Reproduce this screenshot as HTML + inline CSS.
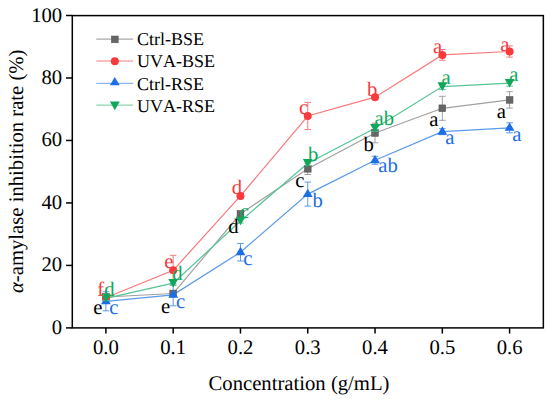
<!DOCTYPE html><html><head><meta charset="utf-8"><style>html,body{margin:0;padding:0;background:#fff;width:550px;height:401px;overflow:hidden}svg{display:block;text-rendering:geometricPrecision}</style></head><body>
<svg width="550" height="401" viewBox="0 0 550 401" style="font-family:&quot;Liberation Serif&quot;, serif">
<rect width="550" height="401" fill="#fff"/>
<polyline points="105.90,297.00 173.18,293.50 240.47,213.80 307.75,168.80 375.03,133.00 442.32,108.30 509.60,99.90" fill="none" stroke="#a0a0a0" stroke-width="1.2"/>
<polyline points="105.90,297.80 173.18,270.30 240.47,195.90 307.75,116.00 375.03,97.20 442.32,54.90 509.60,51.50" fill="none" stroke="#f77a7a" stroke-width="1.2"/>
<polyline points="105.90,301.30 173.18,294.80 240.47,252.20 307.75,194.10 375.03,160.30 442.32,131.70 509.60,127.80" fill="none" stroke="#5a9ae8" stroke-width="1.2"/>
<polyline points="105.90,298.30 173.18,283.20 240.47,221.00 307.75,163.30 375.03,128.30 442.32,86.60 509.60,83.20" fill="none" stroke="#55c594" stroke-width="1.2"/>
<path d="M105.90 295.00V299.00M102.60 295.00H109.20M102.60 299.00H109.20" stroke="#a0a0a0" stroke-width="1" fill="none"/>
<path d="M173.18 291.50V295.50M169.88 291.50H176.48M169.88 295.50H176.48" stroke="#a0a0a0" stroke-width="1" fill="none"/>
<path d="M240.47 211.80V215.80M237.17 211.80H243.77M237.17 215.80H243.77" stroke="#a0a0a0" stroke-width="1" fill="none"/>
<path d="M307.75 163.10V174.50M304.45 163.10H311.05M304.45 174.50H311.05" stroke="#a0a0a0" stroke-width="1" fill="none"/>
<path d="M375.03 123.20V142.80M371.73 123.20H378.33M371.73 142.80H378.33" stroke="#a0a0a0" stroke-width="1" fill="none"/>
<path d="M442.32 96.30V120.30M439.02 96.30H445.62M439.02 120.30H445.62" stroke="#a0a0a0" stroke-width="1" fill="none"/>
<path d="M509.60 91.70V108.10M506.30 91.70H512.90M506.30 108.10H512.90" stroke="#a0a0a0" stroke-width="1" fill="none"/>
<rect x="102.50" y="293.60" width="6.8" height="6.8" fill="#666666" stroke="#555" stroke-width="0.5"/>
<rect x="169.78" y="290.10" width="6.8" height="6.8" fill="#666666" stroke="#555" stroke-width="0.5"/>
<rect x="237.07" y="210.40" width="6.8" height="6.8" fill="#666666" stroke="#555" stroke-width="0.5"/>
<rect x="304.35" y="165.40" width="6.8" height="6.8" fill="#666666" stroke="#555" stroke-width="0.5"/>
<rect x="371.63" y="129.60" width="6.8" height="6.8" fill="#666666" stroke="#555" stroke-width="0.5"/>
<rect x="438.92" y="104.90" width="6.8" height="6.8" fill="#666666" stroke="#555" stroke-width="0.5"/>
<rect x="506.20" y="96.50" width="6.8" height="6.8" fill="#666666" stroke="#555" stroke-width="0.5"/>
<path d="M105.90 295.80V299.80M102.60 295.80H109.20M102.60 299.80H109.20" stroke="#f77a7a" stroke-width="1" fill="none"/>
<path d="M173.18 255.30V285.30M169.88 255.30H176.48M169.88 285.30H176.48" stroke="#f77a7a" stroke-width="1" fill="none"/>
<path d="M240.47 193.90V197.90M237.17 193.90H243.77M237.17 197.90H243.77" stroke="#f77a7a" stroke-width="1" fill="none"/>
<path d="M307.75 102.40V129.60M304.45 102.40H311.05M304.45 129.60H311.05" stroke="#f77a7a" stroke-width="1" fill="none"/>
<path d="M375.03 95.20V99.20M371.73 95.20H378.33M371.73 99.20H378.33" stroke="#f77a7a" stroke-width="1" fill="none"/>
<path d="M442.32 49.50V60.30M439.02 49.50H445.62M439.02 60.30H445.62" stroke="#f77a7a" stroke-width="1" fill="none"/>
<path d="M509.60 45.90V57.10M506.30 45.90H512.90M506.30 57.10H512.90" stroke="#f77a7a" stroke-width="1" fill="none"/>
<circle cx="105.90" cy="297.80" r="4.0" fill="#f83a3c"/>
<circle cx="173.18" cy="270.30" r="4.0" fill="#f83a3c"/>
<circle cx="240.47" cy="195.90" r="4.0" fill="#f83a3c"/>
<circle cx="307.75" cy="116.00" r="4.0" fill="#f83a3c"/>
<circle cx="375.03" cy="97.20" r="4.0" fill="#f83a3c"/>
<circle cx="442.32" cy="54.90" r="4.0" fill="#f83a3c"/>
<circle cx="509.60" cy="51.50" r="4.0" fill="#f83a3c"/>
<path d="M105.90 291.80V310.80M102.60 291.80H109.20M102.60 310.80H109.20" stroke="#5a9ae8" stroke-width="1" fill="none"/>
<path d="M173.18 283.80V305.80M169.88 283.80H176.48M169.88 305.80H176.48" stroke="#5a9ae8" stroke-width="1" fill="none"/>
<path d="M240.47 243.40V261.00M237.17 243.40H243.77M237.17 261.00H243.77" stroke="#5a9ae8" stroke-width="1" fill="none"/>
<path d="M307.75 182.10V206.10M304.45 182.10H311.05M304.45 206.10H311.05" stroke="#5a9ae8" stroke-width="1" fill="none"/>
<path d="M375.03 156.30V164.30M371.73 156.30H378.33M371.73 164.30H378.33" stroke="#5a9ae8" stroke-width="1" fill="none"/>
<path d="M442.32 128.70V134.70M439.02 128.70H445.62M439.02 134.70H445.62" stroke="#5a9ae8" stroke-width="1" fill="none"/>
<path d="M509.60 122.80V132.80M506.30 122.80H512.90M506.30 132.80H512.90" stroke="#5a9ae8" stroke-width="1" fill="none"/>
<path d="M105.90 295.90 L110.80 304.30 L101.00 304.30Z" fill="#1a6ee6"/>
<path d="M173.18 289.40 L178.08 297.80 L168.28 297.80Z" fill="#1a6ee6"/>
<path d="M240.47 246.80 L245.37 255.20 L235.57 255.20Z" fill="#1a6ee6"/>
<path d="M307.75 188.70 L312.65 197.10 L302.85 197.10Z" fill="#1a6ee6"/>
<path d="M375.03 154.90 L379.93 163.30 L370.13 163.30Z" fill="#1a6ee6"/>
<path d="M442.32 126.30 L447.22 134.70 L437.42 134.70Z" fill="#1a6ee6"/>
<path d="M509.60 122.40 L514.50 130.80 L504.70 130.80Z" fill="#1a6ee6"/>
<path d="M105.90 296.30V300.30M102.60 296.30H109.20M102.60 300.30H109.20" stroke="#55c594" stroke-width="1" fill="none"/>
<path d="M173.18 281.20V285.20M169.88 281.20H176.48M169.88 285.20H176.48" stroke="#55c594" stroke-width="1" fill="none"/>
<path d="M240.47 219.00V223.00M237.17 219.00H243.77M237.17 223.00H243.77" stroke="#55c594" stroke-width="1" fill="none"/>
<path d="M307.75 161.30V165.30M304.45 161.30H311.05M304.45 165.30H311.05" stroke="#55c594" stroke-width="1" fill="none"/>
<path d="M375.03 125.30V131.30M371.73 125.30H378.33M371.73 131.30H378.33" stroke="#55c594" stroke-width="1" fill="none"/>
<path d="M442.32 83.60V89.60M439.02 83.60H445.62M439.02 89.60H445.62" stroke="#55c594" stroke-width="1" fill="none"/>
<path d="M509.60 80.20V86.20M506.30 80.20H512.90M506.30 86.20H512.90" stroke="#55c594" stroke-width="1" fill="none"/>
<path d="M101.00 294.00 L110.80 294.00 L105.90 302.60Z" fill="#0fa85a"/>
<path d="M168.28 278.90 L178.08 278.90 L173.18 287.50Z" fill="#0fa85a"/>
<path d="M235.57 216.70 L245.37 216.70 L240.47 225.30Z" fill="#0fa85a"/>
<path d="M302.85 159.00 L312.65 159.00 L307.75 167.60Z" fill="#0fa85a"/>
<path d="M370.13 124.00 L379.93 124.00 L375.03 132.60Z" fill="#0fa85a"/>
<path d="M437.42 82.30 L447.22 82.30 L442.32 90.90Z" fill="#0fa85a"/>
<path d="M504.70 78.90 L514.50 78.90 L509.60 87.50Z" fill="#0fa85a"/>
<g font-size="20.7">
<text x="93.19" y="314.30" fill="#000000">e</text>
<text x="160.89" y="312.60" fill="#000000">e</text>
<text x="228.25" y="233.10" fill="#000000">d</text>
<text x="295.21" y="187.10" fill="#000000">c</text>
<text x="363.40" y="151.40" fill="#000000">b</text>
<text x="429.27" y="126.40" fill="#000000">a</text>
<text x="496.67" y="118.40" fill="#000000">a</text>
<text x="97.36" y="295.80" fill="#f83a3c">f</text>
<text x="164.19" y="268.10" fill="#f83a3c">e</text>
<text x="231.75" y="194.10" fill="#f83a3c">d</text>
<text x="298.91" y="113.70" fill="#f83a3c">c</text>
<text x="367.00" y="95.60" fill="#f83a3c">b</text>
<text x="432.97" y="53.00" fill="#f83a3c">a</text>
<text x="500.27" y="50.60" fill="#f83a3c">a</text>
<text x="109.21" y="313.90" fill="#1a6ee6">c</text>
<text x="176.11" y="307.60" fill="#1a6ee6">c</text>
<text x="243.31" y="264.80" fill="#1a6ee6">c</text>
<text x="312.50" y="206.60" fill="#1a6ee6">b</text>
<text x="378.37" y="172.10" fill="#1a6ee6">ab</text>
<text x="445.17" y="144.30" fill="#1a6ee6">a</text>
<text x="512.17" y="141.30" fill="#1a6ee6">a</text>
<text x="104.25" y="295.60" fill="#0fa85a">d</text>
<text x="172.25" y="279.90" fill="#0fa85a">d</text>
<text x="239.71" y="217.90" fill="#0fa85a">c</text>
<text x="308.00" y="161.10" fill="#0fa85a">b</text>
<text x="374.47" y="125.20" fill="#0fa85a">ab</text>
<text x="441.57" y="84.10" fill="#0fa85a">a</text>
<text x="509.27" y="80.60" fill="#0fa85a">a</text>
</g>
<g stroke="#000" stroke-width="1.5" fill="none">
<rect x="72.3" y="15.6" width="471.05" height="312.3"/>
<path d="M66 327.90H72.3"/>
<path d="M66 265.42H72.3"/>
<path d="M66 202.94H72.3"/>
<path d="M66 140.46H72.3"/>
<path d="M66 77.98H72.3"/>
<path d="M66 15.50H72.3"/>
<path d="M105.90 327.9V333.6"/>
<path d="M173.18 327.9V333.6"/>
<path d="M240.47 327.9V333.6"/>
<path d="M307.75 327.9V333.6"/>
<path d="M375.03 327.9V333.6"/>
<path d="M442.32 327.9V333.6"/>
<path d="M509.60 327.9V333.6"/>
</g>
<g font-size="20.7" fill="#000">
<text x="62.2" y="333.90" text-anchor="end">0</text>
<text x="62.2" y="271.42" text-anchor="end">20</text>
<text x="62.2" y="208.94" text-anchor="end">40</text>
<text x="62.2" y="146.46" text-anchor="end">60</text>
<text x="62.2" y="83.98" text-anchor="end">80</text>
<text x="62.2" y="21.50" text-anchor="end">100</text>
<text x="105.90" y="354.0" text-anchor="middle">0.0</text>
<text x="173.18" y="354.0" text-anchor="middle">0.1</text>
<text x="240.47" y="354.0" text-anchor="middle">0.2</text>
<text x="307.75" y="354.0" text-anchor="middle">0.3</text>
<text x="375.03" y="354.0" text-anchor="middle">0.4</text>
<text x="442.32" y="354.0" text-anchor="middle">0.5</text>
<text x="509.60" y="354.0" text-anchor="middle">0.6</text>
</g>
<text x="299" y="390.2" font-size="20.7" text-anchor="middle">Concentration (g/mL)</text>
<text transform="translate(22.6 171.3) rotate(-90)" font-size="20.7" text-anchor="middle"><tspan font-style="italic">α</tspan>-amylase inhibition rate (%)</text>
<path d="M96.3 39.10H133.1" stroke="#a8a8a8" stroke-width="1.3"/>
<rect x="111.40" y="36.00" width="6.8" height="6.8" fill="#666666" stroke="#555" stroke-width="0.5"/>
<text x="137" y="45.30" font-size="18" fill="#000" style="font-kerning:none">Ctrl-BSE</text>
<path d="M96.3 61.00H133.1" stroke="#f9aaaa" stroke-width="1.3"/>
<circle cx="114.80" cy="61.30" r="4.0" fill="#f83a3c"/>
<text x="137" y="67.20" font-size="18" fill="#000" style="font-kerning:none">UVA-BSE</text>
<path d="M96.3 83.30H133.1" stroke="#8cb8f0" stroke-width="1.3"/>
<path d="M114.80 76.90 L119.70 85.30 L109.90 85.30Z" fill="#1a6ee6"/>
<text x="137" y="89.80" font-size="18" fill="#000" style="font-kerning:none">Ctrl-RSE</text>
<path d="M96.3 105.20H133.1" stroke="#8fd4b2" stroke-width="1.3"/>
<path d="M109.90 101.60 L119.70 101.60 L114.80 110.20Z" fill="#0fa85a"/>
<text x="137" y="111.70" font-size="18" fill="#000" style="font-kerning:none">UVA-RSE</text>
</svg></body></html>
